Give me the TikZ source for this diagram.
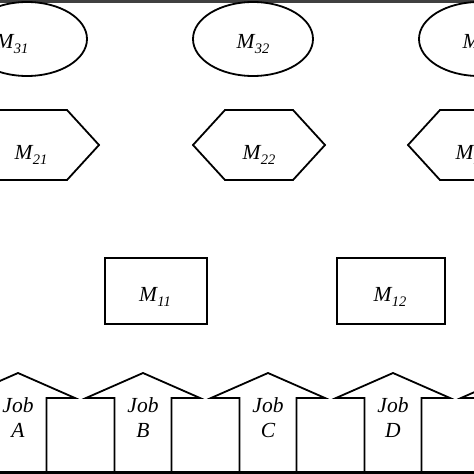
\documentclass[tikz,border=0pt]{standalone}
\usepackage{fontspec}
\setmainfont{Liberation Serif}
\usetikzlibrary{shapes.geometric}
\newcommand{\mlab}[1]{\itshape M\kern0.5pt\raisebox{-5pt}{\fontsize{14.5}{14.5}\selectfont #1}}
\tikzset{
  shp/.style={draw=black, line width=1.8pt},
  ell/.style={shp, ellipse, minimum width=120pt, minimum height=74pt, inner sep=0pt},
  rectbox/.style={shp, rectangle, minimum height=66pt, inner sep=0pt},
  lab/.style={font=\fontsize{21.5}{25}\selectfont\itshape, inner sep=0pt, anchor=base},
}
\newcommand{\hexa}[2]{% center x, name
  \draw[shp] (#1-66,145) -- (#1-34,110) -- (#1+34,110) -- (#1+66,145) -- (#1+34,180) -- (#1-34,180) -- cycle;
  \coordinate (#2) at (#1,145);}
\newcommand{\jobarrow}[2]{% center x, name
  \draw[shp, line join=miter] (#1-28.5,472) -- (#1-28.5,398) -- (#1-57,398) -- (#1,373) -- (#1+57,398) -- (#1+28.5,398) -- (#1+28.5,472);
  \coordinate (#2) at (#1,373);}
\begin{document}
\begin{tikzpicture}[x=1pt,y=-1pt]
\useasboundingbox (0,0) rectangle (474,474);
\fill[white] (0,0) rectangle (474,474);
% top band
\fill[black!75] (0,0) rectangle (474,2.5);
% ellipses
\node[ell] (m31) at (27,39) {};
\node[ell] (m32) at (253,39) {};
\node[ell] (m33) at (479,39) {};
\node[lab] (t31) at (12,48) {\mlab{31}};
\node[lab] (t32) at (253,48) {\mlab{32}};
\node[lab] (t33) at (479,48) {\mlab{33}};
% hexagons
\hexa{33}{m21}
\hexa{259}{m22}
\hexa{474}{m23}
\node[lab] (t21) at (31,159) {\mlab{21}};
\node[lab] (t22) at (259,159) {\mlab{22}};
\node[lab] (t23) at (472,159) {\mlab{23}};
% rectangles
\node[rectbox, minimum width=102pt] (m11) at (156,291) {};
\node[rectbox, minimum width=108pt] (m12) at (391,291) {};
\node[lab] (t11) at (155,301) {\mlab{11}};
\node[lab] (t12) at (390,301) {\mlab{12}};
% job arrows
\jobarrow{18}{ja}
\jobarrow{143}{jb}
\jobarrow{268}{jc}
\jobarrow{393}{jd}
\jobarrow{518}{je}
\node[lab] (la1) at (18,412) {Job};
\node[lab] (la2) at (18,437) {A};
\node[lab] (lb1) at (143,412) {Job};
\node[lab] (lb2) at (143,437) {B};
\node[lab] (lc1) at (268,412) {Job};
\node[lab] (lc2) at (268,437) {C};
\node[lab] (ld1) at (393,412) {Job};
\node[lab] (ld2) at (393,437) {D};
\node[lab] (le1) at (518,412) {Job};
\node[lab] (le2) at (518,437) {E};
% bottom line
\draw[line width=3pt] (0,472.5) -- (474,472.5);
\end{tikzpicture}
\end{document}
